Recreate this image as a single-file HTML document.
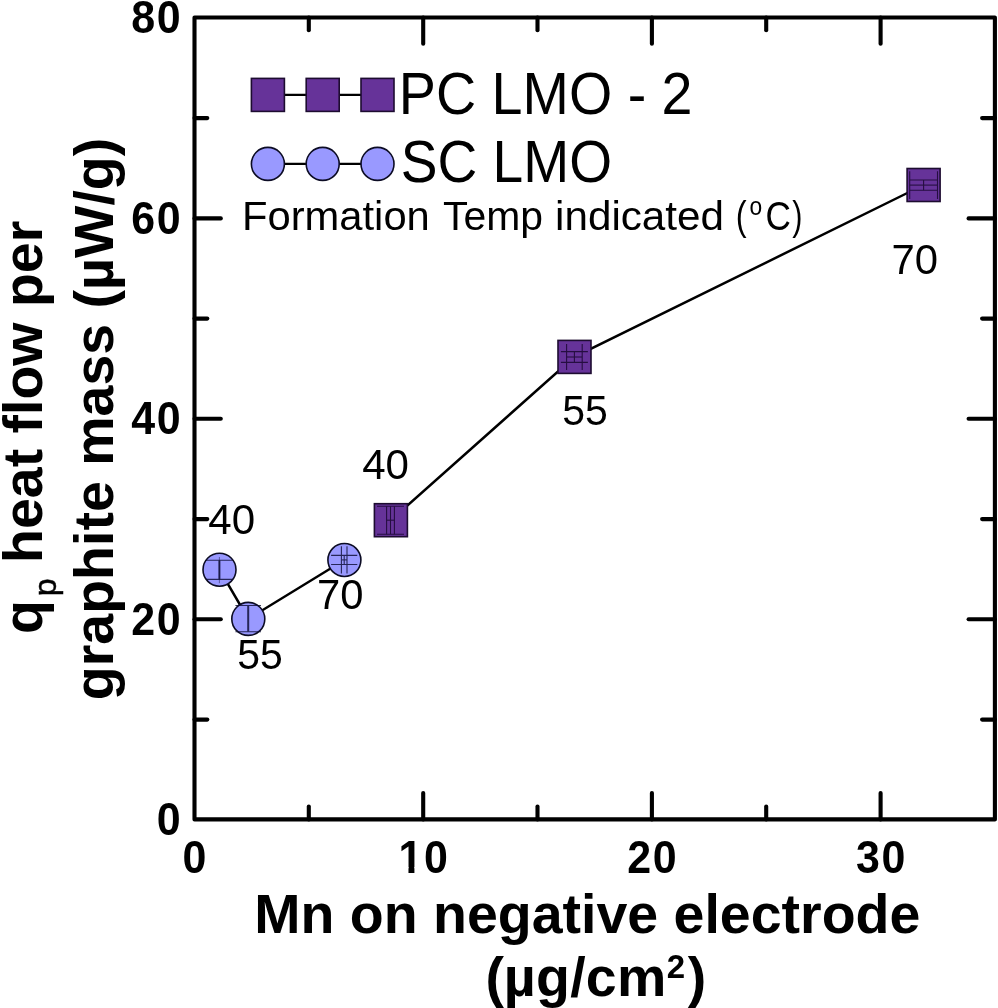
<!DOCTYPE html>
<html lang="en"><head><meta charset="utf-8"><title>Heat flow vs Mn on negative electrode</title>
<style>html,body{margin:0;padding:0;background:#fff}body{width:998px;height:1008px;overflow:hidden}svg{display:block}text{font-family:"Liberation Sans",sans-serif;fill:#000}.b{font-weight:bold}</style></head><body>
<svg width="998" height="1008" viewBox="0 0 998 1008">
<rect width="998" height="1008" fill="#fff"/>
<rect x="194.5" y="17.5" width="800.4" height="801.9" fill="none" stroke="#000" stroke-width="4.1" stroke-linejoin="round"/>
<g stroke="#000" stroke-width="4.1" stroke-linecap="round">
<line x1="308.8" y1="819.4" x2="308.8" y2="806.6"/>
<line x1="308.8" y1="17.5" x2="308.8" y2="30.3"/>
<line x1="423.2" y1="819.4" x2="423.2" y2="793.1"/>
<line x1="423.2" y1="17.5" x2="423.2" y2="43.8"/>
<line x1="537.5" y1="819.4" x2="537.5" y2="806.6"/>
<line x1="537.5" y1="17.5" x2="537.5" y2="30.3"/>
<line x1="651.9" y1="819.4" x2="651.9" y2="793.1"/>
<line x1="651.9" y1="17.5" x2="651.9" y2="43.8"/>
<line x1="766.2" y1="819.4" x2="766.2" y2="806.6"/>
<line x1="766.2" y1="17.5" x2="766.2" y2="30.3"/>
<line x1="880.6" y1="819.4" x2="880.6" y2="793.1"/>
<line x1="880.6" y1="17.5" x2="880.6" y2="43.8"/>
<line x1="194.5" y1="719.6" x2="207.3" y2="719.6"/>
<line x1="994.9" y1="719.6" x2="982.1" y2="719.6"/>
<line x1="194.5" y1="619.3" x2="220.8" y2="619.3"/>
<line x1="994.9" y1="619.3" x2="968.6" y2="619.3"/>
<line x1="194.5" y1="519.1" x2="207.3" y2="519.1"/>
<line x1="994.9" y1="519.1" x2="982.1" y2="519.1"/>
<line x1="194.5" y1="418.8" x2="220.8" y2="418.8"/>
<line x1="994.9" y1="418.8" x2="968.6" y2="418.8"/>
<line x1="194.5" y1="318.6" x2="207.3" y2="318.6"/>
<line x1="994.9" y1="318.6" x2="982.1" y2="318.6"/>
<line x1="194.5" y1="218.4" x2="220.8" y2="218.4"/>
<line x1="994.9" y1="218.4" x2="968.6" y2="218.4"/>
<line x1="194.5" y1="118.1" x2="207.3" y2="118.1"/>
<line x1="994.9" y1="118.1" x2="982.1" y2="118.1"/>
</g>
<g class="b" font-size="45.7" text-anchor="end" letter-spacing="1.7">
<text transform="translate(182.3 835.2) scale(0.94 1.02)">0</text>
<text transform="translate(182.3 634.7) scale(0.94 1.02)">20</text>
<text transform="translate(182.3 434.2) scale(0.94 1.02)">40</text>
<text transform="translate(182.3 233.8) scale(0.94 1.02)">60</text>
<text transform="translate(182.3 33.3) scale(0.94 1.02)">80</text>
</g>
<g class="b" font-size="45.7" text-anchor="middle" letter-spacing="1.7">
<text transform="translate(195.3 873.4) scale(0.94 1.02)">0</text>
<text transform="translate(424.0 873.4) scale(0.94 1.02)">10</text>
<text transform="translate(652.7 873.4) scale(0.94 1.02)">20</text>
<text transform="translate(881.4 873.4) scale(0.94 1.02)">30</text>
</g>
<rect x="399" y="867" width="9.47" height="7.5" fill="#fff"/><rect x="414.41" y="867" width="8.6" height="7.5" fill="#fff"/>
<text class="b" font-size="55.5" text-anchor="middle" x="587.3" y="933.2">Mn on negative electrode</text>
<text class="b" font-size="55.5" x="485.6" y="996">(<tspan dx="-0.4" letter-spacing="0.3">µg/cm</tspan><tspan font-size="33" dy="-17.6" dx="0">2</tspan><tspan dy="17.6" dx="2.6">)</tspan></text>
<g transform="translate(42 0) rotate(-90)"><text class="b" font-size="55.5" x="-634" y="0">q</text><text font-size="32" x="-596.3" y="13.5" stroke="#000" stroke-width="0.5">p</text><text class="b" font-size="55.5" x="-563" y="0">heat flow per</text></g>
<text class="b" font-size="55.5" text-anchor="middle" transform="translate(113 419) rotate(-90)">graphite mass (µW/g)</text>
<polyline points="219.5,569.7 248.3,618.9 344.4,560.0" fill="none" stroke="#000" stroke-width="2.5"/>
<polyline points="390.9,520.2 574.5,356.9 923.6,185.0" fill="none" stroke="#000" stroke-width="2.5"/>
<rect x="374.4" y="503.7" width="33" height="33" fill="#663399" stroke="#1d0c30" stroke-width="1.6"/>
<rect x="558.0" y="340.4" width="33" height="33" fill="#663399" stroke="#1d0c30" stroke-width="1.6"/>
<rect x="907.1" y="168.5" width="33" height="33" fill="#663399" stroke="#1d0c30" stroke-width="1.6"/>
<circle cx="219.5" cy="569.7" r="16.5" fill="#9999ff" stroke="#0c0c24" stroke-width="1.6"/>
<circle cx="248.3" cy="618.9" r="16.5" fill="#9999ff" stroke="#0c0c24" stroke-width="1.6"/>
<circle cx="344.4" cy="560.0" r="16.5" fill="#9999ff" stroke="#0c0c24" stroke-width="1.6"/>
<g fill="none" stroke="#0a0a30" stroke-width="1.1" opacity="0.8"><path d="M219.4 560.1999999999999V579.4" stroke-width="2"/><path d="M206.0 560.1999999999999H232.8M206.0 579.4H232.8"/></g>
<path d="M219.4 557V583.2" stroke="#0a0a30" stroke-width="1" opacity="0.45" fill="none"/>
<g fill="none" stroke="#0a0a30" stroke-width="1.1" opacity="0.8"><path d="M248.2 605.5V631.7" stroke-width="2"/><path d="M235.39999999999998 605.5H261.0M235.39999999999998 631.7H261.0"/></g>
<g fill="none" stroke="#0a0a30" stroke-width="1.1" opacity="0.8"><path d="M344.2 555.35V564.4499999999999" stroke-width="1.1"/><path d="M331.09999999999997 555.35H357.3M331.09999999999997 564.4499999999999H357.3"/><path d="M341.4 559.9H347.0"/><path d="M341.4 546.1999999999999V573.6M347.0 546.1999999999999V573.6"/></g>
<g fill="none" stroke="#16052c" stroke-width="1.1" opacity="0.8"><path d="M390.5 506.20000000000005V534.2" stroke-width="1.1"/><path d="M377.0 506.20000000000005H404.0M377.0 534.2H404.0"/><path d="M386.6 520.2H394.4"/><path d="M386.6 506.20000000000005V534.2M394.4 506.20000000000005V534.2"/></g>
<g fill="none" stroke="#16052c" stroke-width="1.1" opacity="0.8"><path d="M574.4 351.6V362.4" stroke-width="1.1"/><path d="M560.9 351.6H587.9M560.9 362.4H587.9"/><path d="M566.6 357.0H582.1999999999999"/><path d="M566.6 343.9V370.1M582.1999999999999 343.9V370.1"/></g>
<g fill="none" stroke="#16052c" stroke-width="1.1" opacity="0.8"><path d="M923.6 180.0V190.2" stroke-width="1.1"/><path d="M909.7 180.0H937.5M909.7 190.2H937.5"/><path d="M909.7 185.1H937.5"/><path d="M909.7 171.29999999999998V198.9M937.5 171.29999999999998V198.9"/></g>
<line x1="267.9" y1="94.9" x2="377.5" y2="94.9" stroke="#000" stroke-width="2.3"/>
<line x1="267.9" y1="163.9" x2="377.5" y2="163.9" stroke="#000" stroke-width="2.3"/>
<rect x="251.4" y="78.4" width="33" height="33" fill="#663399" stroke="#1d0c30" stroke-width="1.6"/>
<circle cx="267.9" cy="163.9" r="16.5" fill="#9999ff" stroke="#0c0c24" stroke-width="1.6"/>
<rect x="306.2" y="78.4" width="33" height="33" fill="#663399" stroke="#1d0c30" stroke-width="1.6"/>
<circle cx="322.7" cy="163.9" r="16.5" fill="#9999ff" stroke="#0c0c24" stroke-width="1.6"/>
<rect x="361.0" y="78.4" width="33" height="33" fill="#663399" stroke="#1d0c30" stroke-width="1.6"/>
<circle cx="377.5" cy="163.9" r="16.5" fill="#9999ff" stroke="#0c0c24" stroke-width="1.6"/>
<text font-size="58.5" transform="translate(398.84 113.6) scale(0.9515 1)">PC LMO - 2</text>
<text font-size="58.5" transform="translate(400.74 181.6) scale(0.9424 1)">SC LMO</text>
<text font-size="41" transform="translate(241.94 230.2) scale(1.0184 1)">Formation</text>
<text font-size="41" transform="translate(443.08 230.2) scale(0.9972 1)">Temp</text>
<text font-size="41" transform="translate(555.07 230.2) scale(1.0295 1)">indicated</text>
<text font-size="41" transform="translate(735.84 230.2) scale(0.7978 1)">(</text>
<text font-size="26" transform="translate(749.62 215.1) scale(0.8773 1)">o</text>
<text font-size="41" transform="translate(765.58 230.2) scale(0.8577 1)">C</text>
<text font-size="41" transform="translate(792.14 230.2) scale(0.7461 1)">)</text>
<text font-size="41.7" transform="translate(208.34 534.0) scale(1.0103 1)">40</text>
<text font-size="41.7" transform="translate(237.17 668.6) scale(0.983 1)">55</text>
<text font-size="41.7" transform="translate(316.9 608.6) scale(1.0023 1)">70</text>
<text font-size="41.7" transform="translate(362.14 478.8) scale(1.0103 1)">40</text>
<text font-size="41.7" transform="translate(562.17 424.6) scale(0.983 1)">55</text>
<text font-size="41.7" transform="translate(891.39 273.9) scale(1.0047 1)">70</text>
</svg></body></html>
